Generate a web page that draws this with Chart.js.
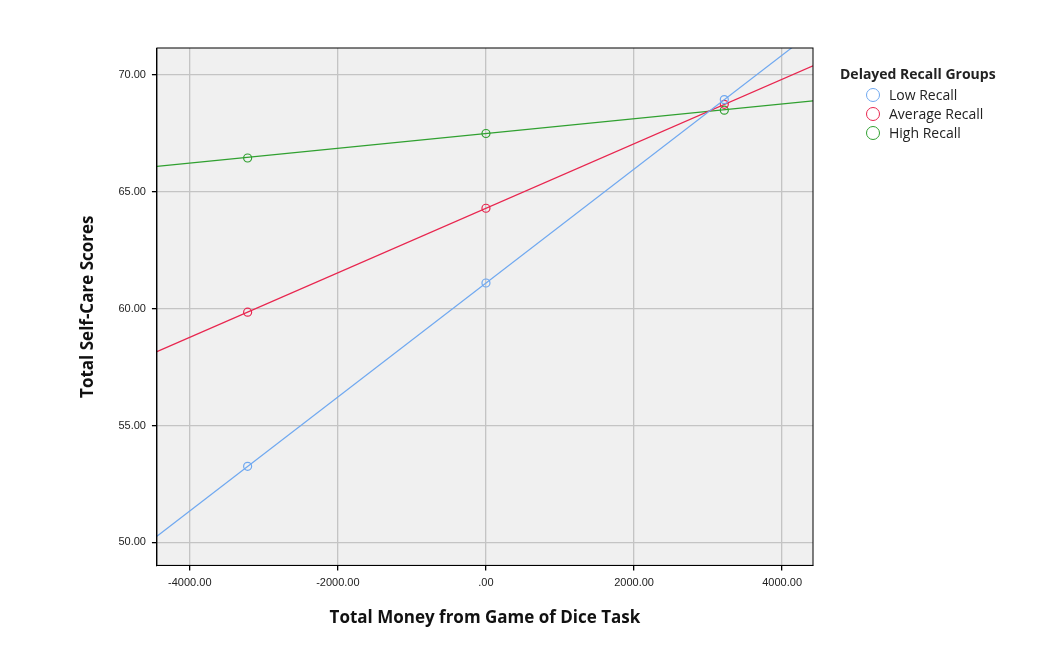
<!DOCTYPE html>
<html><head><meta charset="utf-8">
<script src="https://cdn.jsdelivr.net/npm/chart.js@4/dist/chart.umd.min.js"></script>
<style>
body{margin:0;background:#fff;font-family:"Open Sans","DejaVu Sans",sans-serif}
#wrap{position:relative;width:1048px;height:648px}
#legend{position:absolute;left:840px;top:64px;font-size:14px;color:#222}
#legend .t{font-weight:bold;margin-bottom:2px}
#legend .r{display:flex;align-items:center;height:19px;padding-left:26px}
#legend .c{width:14px;height:14px;border-radius:50%;border:1.5px solid;margin-right:9px;box-sizing:border-box}
</style></head><body>
<div id="wrap"><canvas id="c" width="1048" height="648"></canvas>
<div id="legend"><div class="t">Delayed Recall Groups</div></div></div>
<script>
const groups=["Low Recall","Average Recall","High Recall"];
const colors=["#6fa8f0","#e8264f","#30a030"];
const pointX=[-3219,0,3219];
const lowY=[53.25,61.1,68.95];
const avgY=[59.85,64.3,68.75];
const highY=[66.45,67.5,68.5];
const lineX=[-4444,4417];
const lowLine=[50.26,71.87];
const avgLine=[58.16,70.4];
const highLine=[66.09,68.9];
const pts=[lowY,avgY,highY], lines=[lowLine,avgLine,highLine];
const ds=[];
groups.forEach((g,i)=>{
 ds.push({label:g+" fit",type:'line',data:lineX.map((x,j)=>({x,y:lines[i][j]})),borderColor:colors[i],borderWidth:1.2,pointRadius:0,fill:false});
 ds.push({label:g,type:'scatter',data:pointX.map((x,j)=>({x,y:pts[i][j]})),borderColor:colors[i],backgroundColor:'transparent',pointRadius:4,borderWidth:1.2});
});
const lg=document.getElementById('legend');
groups.forEach((g,i)=>{lg.insertAdjacentHTML('beforeend',`<div class="r"><span class="c" style="border-color:${colors[i]}"></span>${g}</div>`)});
const bg={id:'bg',beforeDraw(c){const a=c.chartArea,x=c.ctx;x.save();x.fillStyle='#f0f0f0';x.fillRect(a.left,a.top,a.right-a.left,a.bottom-a.top);x.restore();},
 afterDraw(c){const a=c.chartArea,x=c.ctx;x.save();x.strokeStyle='#000';x.lineWidth=1;x.strokeRect(a.left,a.top,a.right-a.left,a.bottom-a.top);x.restore();}};
const fmt=v=>{if(v===0)return '.00';return v.toFixed(2)};
new Chart(document.getElementById('c'),{
 type:'scatter',data:{datasets:ds},plugins:[bg],
 options:{responsive:false,animation:false,
  layout:{padding:{left:74,right:235,top:48,bottom:16}},
  plugins:{legend:{display:false},tooltip:{enabled:false}},
  scales:{
   x:{type:'linear',min:-4444,max:4417,afterBuildTicks(s){s.ticks=[-4000,-2000,0,2000,4000].map(v=>({value:v}))},
      ticks:{callback:fmt,color:'#222',font:{size:11},maxRotation:0,padding:6},
      grid:{color:'#c4c4c4',lineWidth:1.3,drawTicks:true,tickLength:5,tickColor:'#000'},border:{color:'#000'},
      title:{display:true,text:'Total Money from Game of Dice Task',font:{size:17,weight:'bold',family:'"Open Sans"'},color:'#111',padding:{top:12}}},
   y:{min:49.01,max:71.16,afterBuildTicks(s){s.ticks=[50,55,60,65,70].map(v=>({value:v}))},
      ticks:{callback:v=>v.toFixed(2),color:'#222',font:{size:11},padding:6},
      grid:{color:'#c4c4c4',lineWidth:1.3,tickLength:5,tickColor:'#000'},border:{color:'#000'},
      title:{display:true,text:'Total Self-Care Scores',font:{size:17,weight:'bold',family:'"Open Sans"'},color:'#111',padding:{bottom:14}}}
  }}
});
</script></body></html>
